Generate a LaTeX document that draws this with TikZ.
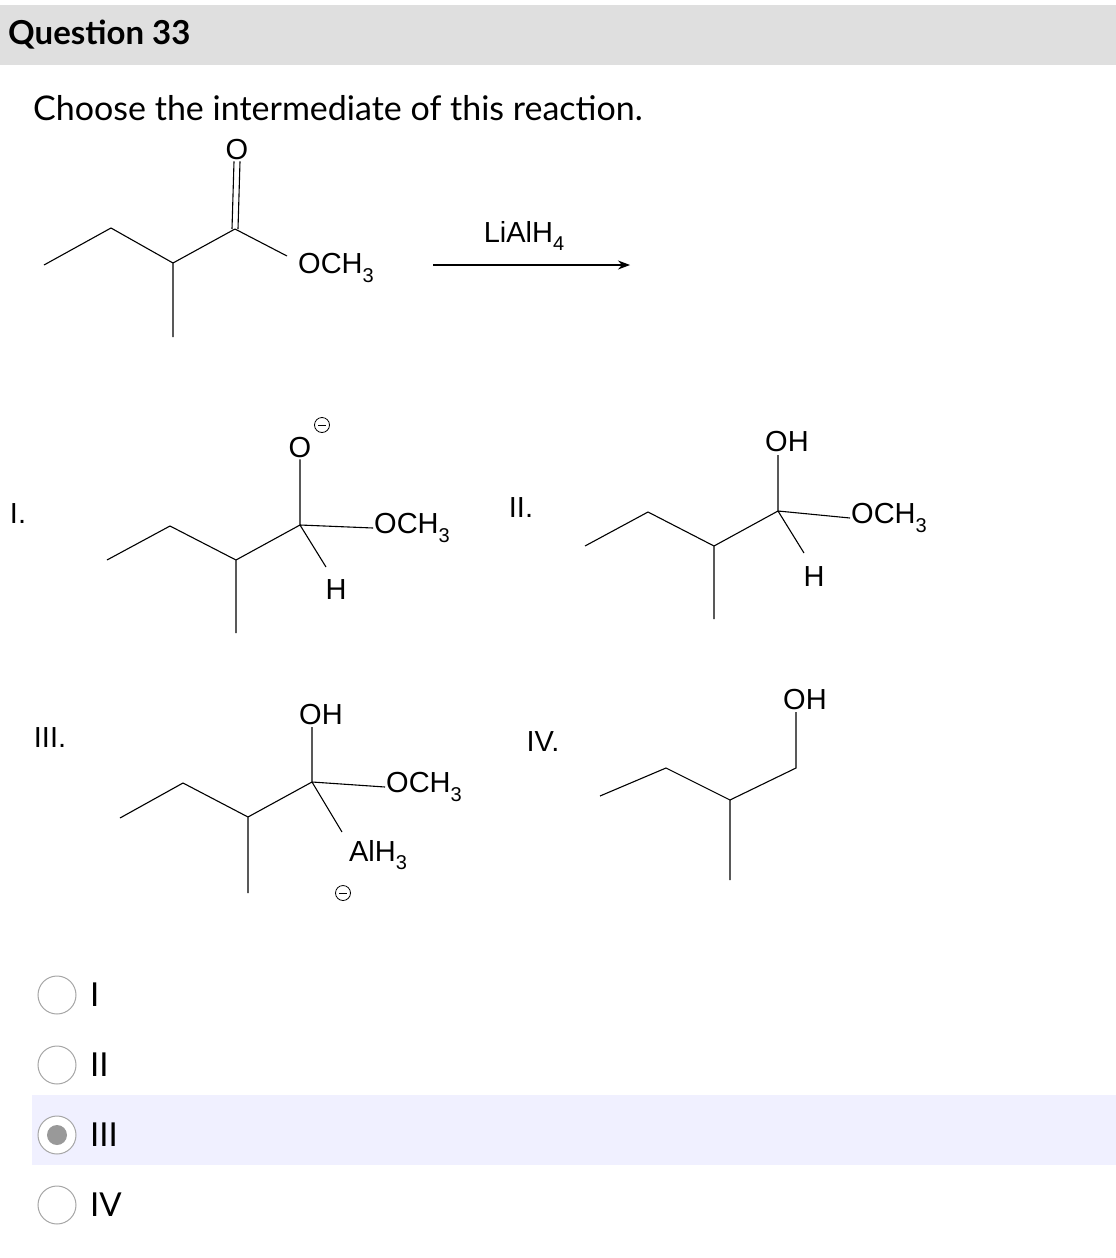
\documentclass[tikz,border=0pt]{standalone}
\usepackage{fontspec}
\usetikzlibrary{arrows.meta}
\setmainfont{Lato}
\newfontfamily\chem{Liberation Sans}
\newcommand{\sbs}[1]{\raisebox{-0.3em}{\fontsize{20}{20}\selectfont #1}}
\begin{document}
\begin{tikzpicture}[x=1pt,y=-1pt,
  bond/.style={line width=1.1pt},
  lab/.style={font=\chem\fontsize{29}{29}\selectfont,inner sep=1pt},
  txt/.style={font=\fontsize{33}{33}\selectfont,inner sep=0pt,anchor=west},
  radio/.style={draw=gray!70,line width=1pt,fill=white,circle,minimum size=38pt,inner sep=0pt},
  minus/.style={draw,circle,line width=0.8pt,minimum size=15pt,inner sep=0pt,
     path picture={\draw[line width=0.8pt] ([xshift=-4pt]path picture bounding box.center)--([xshift=4pt]path picture bounding box.center);}}]
\useasboundingbox (0,0) rectangle (1116,1258);
\fill[gray!25] (0,5) rectangle (1116,65);
\node[txt,font=\bfseries\fontsize{33}{33}\selectfont] (q) at (8,35) {Question 33};
\node[txt,font=\fontsize{34}{34}\selectfont] (ch) at (33,108) {Choose the intermediate of this reaction.};
% reactant
\coordinate (r1) at (44,265); \coordinate (r2) at (111,228); \coordinate (r3) at (173,263);
\coordinate (r4) at (173,337); \coordinate (r5) at (235,229);
\node[lab] (rO) at (237,150) {O};
\node[lab] (rM) at (336,268) {OCH\sbs{3}};
\draw[bond] (r1)--(r2)--(r3)--(r5) (r3)--(r4);
\draw[bond] (r5)--(287,256);
\draw[bond] ([xshift=-3pt]r5)--([xshift=-3pt]rO.south) ([xshift=3pt]r5)--([xshift=3pt]rO.south);
\coordinate (a1) at (433,265); \coordinate (a2) at (630,265);
\draw[line width=1.1pt,-{Stealth[length=12pt]}] (a1)--(a2);
\node[lab] (re) at (524,236) {LiAlH\sbs{4}};
% I
\node[lab] (L1) at (18,514) {I.};
\coordinate (i1) at (107,560); \coordinate (i2) at (170,526); \coordinate (i3) at (236,560);
\coordinate (i4) at (236,633); \coordinate (i5) at (300,525);
\node[lab] (iO) at (300,448) {O};
\node[minus] (im) at (322,425) {};
\node[lab] (iM) at (412,528) {OCH\sbs{3}};
\node[lab] (iH) at (336,590) {H};
\draw[bond] (i1)--(i2)--(i3)--(i5) (i3)--(i4) (i5)--(iO.south) (i5)--(iM.west) (i5)--(326,567);
% II
\node[lab] (L2) at (521,508) {II.};
\coordinate (j1) at (585,546); \coordinate (j2) at (648,512); \coordinate (j3) at (714,546);
\coordinate (j4) at (714,619); \coordinate (j5) at (778,511);
\node[lab,anchor=south west] (jO) at (764,453) {OH};
\node[lab] (jM) at (889,518) {OCH\sbs{3}};
\node[lab] (jH) at (814,577) {H};
\draw[bond] (j1)--(j2)--(j3)--(j5) (j3)--(j4) (j5)--(778,455) (j5)--(jM.west) (j5)--(804,553);
% III
\node[lab] (L3) at (50,738) {III.};
\coordinate (k1) at (120,818); \coordinate (k2) at (183,783); \coordinate (k3) at (248,817);
\coordinate (k4) at (248,893); \coordinate (k5) at (312,782);
\node[lab,anchor=south west] (kO) at (298,726) {OH};
\node[lab] (kM) at (424,787) {OCH\sbs{3}};
\node[lab] (kA) at (378,855) {AlH\sbs{3}};
\node[minus] (km) at (343,893) {};
\draw[bond] (k1)--(k2)--(k3)--(k5) (k3)--(k4) (k5)--(312,727) (k5)--(kM.west) (k5)--(342,832);
% IV
\node[lab] (L4) at (543,742) {IV.};
\coordinate (l1) at (600,796); \coordinate (l2) at (666,768); \coordinate (l3) at (730,800);
\coordinate (l4) at (730,880); \coordinate (l5) at (796,768);
\node[lab,anchor=south west] (lO) at (782,711) {OH};
\draw[bond] (l1)--(l2)--(l3)--(l5)--(796,712) (l3)--(l4);
% answers
\fill[blue!6] (32,1095) rectangle (1116,1165);
\node[radio] (o1) at (57,995) {}; \node[txt] (t1) at (90,995) {I};
\node[radio] (o2) at (57,1065) {}; \node[txt] (t2) at (90,1065) {II};
\node[radio] (o3) at (57,1135) {}; \node[txt] (t3) at (90,1135) {III};
\fill[gray!80] (o3.center) circle (10);
\node[radio] (o4) at (57,1205) {}; \node[txt] (t4) at (90,1205) {IV};
\end{tikzpicture}
\end{document}
